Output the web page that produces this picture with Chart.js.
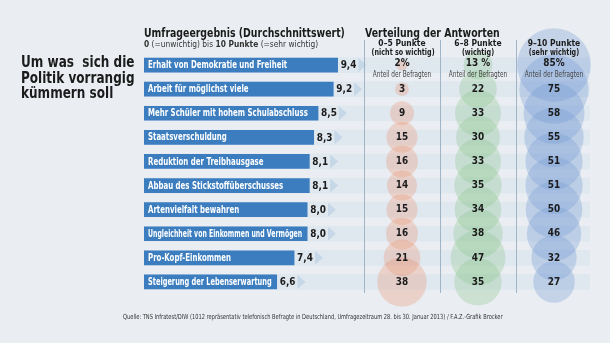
<!DOCTYPE html>
<html>
<head>
<meta charset="utf-8">
<script src="https://cdn.jsdelivr.net/npm/chart.js@4"></script>
<style>
  body { margin:0; width:610px; height:343px; background:#eaeef2; overflow:hidden; position:relative;
         font-family:'DejaVu Sans',sans-serif; color:#1b1b1b; }
  canvas { position:absolute; left:0; top:0; }
  .t { position:absolute; white-space:nowrap; transform-origin:left center; }
  .title { left:21px; top:54px; font-size:16.5px; font-weight:bold; line-height:15.5px; transform:scaleX(0.73); transform-origin:left top; }
  .h { font-size:12px; font-weight:bold; top:26px; transform:scaleX(0.78); }
  .sub { left:144px; top:39px; font-size:8.5px; color:#333; transform:scaleX(0.88); }
  .col { font-weight:bold; text-align:center; width:76px; font-size:9.5px; line-height:8.5px; top:39px; transform:scaleX(0.8); transform-origin:center; }
  .col small { font-size:8px; }
  .src { left:123px; top:313px; font-size:7px; color:#333; transform:scaleX(0.73); }
</style>
</head>
<body>
<canvas id="bars" width="610" height="343"></canvas>
<canvas id="bubbles" width="610" height="343"></canvas>

<div class="t title">Um was&nbsp; sich die<br>Politik vorrangig<br>kümmern soll</div>
<div class="t h" style="left:144px">Umfrageergebnis (Durchschnittswert)</div>
<div class="t sub"><b>0</b> (=unwichtig) bis <b>10 Punkte</b> (=sehr wichtig)</div>
<div class="t h" style="left:365px">Verteilung der Antworten</div>
<div class="t col" style="left:364px">0–5 Punkte<br><small>(nicht so wichtig)</small></div>
<div class="t col" style="left:440px">6–8 Punkte<br><small>(wichtig)</small></div>
<div class="t col" style="left:516px">9–10 Punkte<br><small>(sehr wichtig)</small></div>
<div class="t src">Quelle: TNS Infratest/DIW (1012 repräsentativ telefonisch Befragte in Deutschland, Umfragezeitraum 28. bis 30. Januar 2013) / F.A.Z.-Grafik Brocker</div>

<script>
// Data
const topics = [
  'Erhalt von Demokratie und Freiheit',
  'Arbeit für möglichst viele',
  'Mehr Schüler mit hohem Schulabschluss',
  'Staatsverschuldung',
  'Reduktion der Treibhausgase',
  'Abbau des Stickstoffüberschusses',
  'Artenvielfalt bewahren',
  'Ungleichheit von Einkommen und Vermögen',
  'Pro-Kopf-Einkommen',
  'Steigerung der Lebenserwartung'
];
const scores = [9.4, 9.2, 8.5, 8.3, 8.1, 8.1, 8.0, 8.0, 7.4, 6.6];
const groups = ['0–5', '6–8', '9–10'];
const low = [2, 3, 9, 15, 16, 14, 15, 16, 21, 38];
const mid = [13, 22, 33, 30, 33, 35, 34, 38, 47, 35];
const high = [85, 75, 58, 55, 51, 51, 50, 46, 32, 27];

const FONT = "'DejaVu Sans',sans-serif";
const xMin = 0.5, xMax = 21;
const pad = { top: 53, bottom: 49 };

// draw text squeezed horizontally (condensed look)
function squeezed(ctx, s, x, y, sx) {
  ctx.save();
  ctx.translate(x, y);
  ctx.scale(sx, 1);
  ctx.fillText(s, 0, 0);
  ctx.restore();
  return ctx.measureText(s).width * sx;
}

// Bar chart (left part + row bands)
const barLabels = {
  id: 'barLabels',
  afterDatasetsDraw(chart) {
    const ctx = chart.ctx;
    const meta = chart.getDatasetMeta(0);
    const left = chart.chartArea.left;
    ctx.save();
    ctx.textBaseline = 'middle';
    ctx.textAlign = 'left';
    meta.data.forEach((bar, i) => {
      ctx.font = 'bold 10px ' + FONT;
      ctx.fillStyle = '#fff';
      const room = bar.x - left - 9;
      const sx = Math.min(0.7, room / ctx.measureText(topics[i]).width);
      squeezed(ctx, topics[i], left + 4, bar.y + 0.5, sx);
      const txt = scores[i].toFixed(1).replace('.', ',');
      ctx.fillStyle = '#1b1b1b';
      ctx.font = 'bold 10.5px ' + FONT;
      const w = squeezed(ctx, txt, bar.x + 3, bar.y + 0.5, 0.85);
      const tx = bar.x + 5 + w;
      ctx.fillStyle = '#c6d7e8';
      ctx.beginPath();
      ctx.moveTo(tx, bar.y - 7);
      ctx.lineTo(tx + 8, bar.y);
      ctx.lineTo(tx, bar.y + 7);
      ctx.closePath();
      ctx.fill();
    });
    ctx.restore();
  }
};

new Chart(document.getElementById('bars'), {
  type: 'bar',
  data: {
    labels: topics,
    datasets: [
      { data: scores, backgroundColor: '#3b7dbf', barThickness: 14, grouped: false },
      { data: topics.map(() => xMax), backgroundColor: '#dfe7ef', barThickness: 15, grouped: false }
    ]
  },
  options: {
    indexAxis: 'y',
    responsive: false,
    animation: false,
    layout: { autoPadding: false, padding: { left: 144, right: 20, top: pad.top, bottom: pad.bottom } },
    plugins: { legend: { display: false }, tooltip: { enabled: false } },
    scales: {
      x: { display: false, min: xMin, max: xMax },
      y: { display: false }
    }
  },
  plugins: [barLabels]
});

// Bubble chart (answer distribution)
const k = 4.0;
const cols = [low, mid, high];
const colors = ['rgba(232,140,105,0.28)', 'rgba(125,190,125,0.26)', 'rgba(110,150,210,0.3)'];

const bubbleExtras = {
  id: 'bubbleExtras',
  beforeDatasetsDraw(chart) {
    const ctx = chart.ctx, xs = chart.scales.x;
    const step = xs.getPixelForValue(1) - xs.getPixelForValue(0);
    ctx.save();
    ctx.strokeStyle = '#9fb4c6';
    ctx.lineWidth = 1;
    for (let i = 0; i < groups.length; i++) {
      const x = Math.round(xs.getPixelForValue(i) - step / 2) + 0.5;
      ctx.beginPath();
      ctx.moveTo(x, 40);
      ctx.lineTo(x, 293);
      ctx.stroke();
    }
    ctx.restore();
  },
  afterDatasetsDraw(chart) {
    const ctx = chart.ctx, xs = chart.scales.x, ys = chart.scales.y;
    ctx.save();
    ctx.textAlign = 'center';
    ctx.textBaseline = 'middle';
    cols.forEach((vals, c) => {
      const x = xs.getPixelForValue(c);
      vals.forEach((v, i) => {
        const y = ys.getPixelForValue(i);
        ctx.font = 'bold 10.5px ' + FONT;
        ctx.fillStyle = '#1b1b1b';
        let txt = String(v);
        if (i === 0) txt = v + (c === 1 ? ' %' : '%');
        squeezed(ctx, txt, x, i === 0 ? y - 2 : y, 0.85);
        if (i === 0) {
          ctx.font = '8px ' + FONT;
          ctx.fillStyle = '#444';
          squeezed(ctx, 'Anteil der Befragten', x, y + 10, 0.72);
        }
      });
    });
    ctx.restore();
  }
};

new Chart(document.getElementById('bubbles'), {
  type: 'bubble',
  data: {
    datasets: cols.map((vals, c) => ({
      data: vals.map((v, i) => ({ x: groups[c], y: topics[i], r: k * Math.sqrt(v) })),
      backgroundColor: colors[c],
      borderWidth: 0,
      clip: false
    }))
  },
  options: {
    responsive: false,
    animation: false,
    layout: { autoPadding: false, padding: { left: 364, right: 18, top: pad.top, bottom: pad.bottom } },
    plugins: { legend: { display: false }, tooltip: { enabled: false } },
    scales: {
      x: { type: 'category', labels: groups, offset: true, display: false },
      y: { type: 'category', labels: topics, offset: true, display: false }
    }
  },
  plugins: [bubbleExtras]
});
</script>
</body>
</html>
